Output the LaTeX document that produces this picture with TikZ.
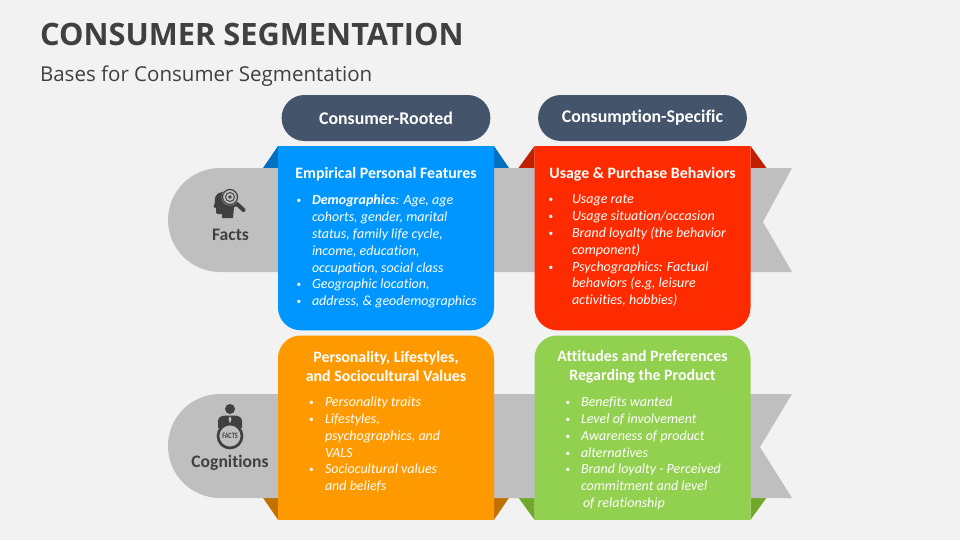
\documentclass[tikz,border=0pt]{standalone}
\usepackage{fontspec}
\setmainfont[Ligatures=NoCommon]{Carlito}
\newfontfamily\titlefont{Open Sans}
\usetikzlibrary{positioning}

\definecolor{pageGrey}{HTML}{F2F2F2}
\definecolor{bandGrey}{HTML}{BFBFBF}
\definecolor{inkGrey}{HTML}{404040}
\definecolor{pillSlate}{HTML}{44546A}
\definecolor{cardBlue}{HTML}{0096FF}
\definecolor{foldBlue}{HTML}{0070C0}
\definecolor{cardRed}{HTML}{FF2B00}
\definecolor{foldRed}{HTML}{C02000}
\definecolor{cardOrange}{HTML}{FF9900}
\definecolor{foldOrange}{HTML}{C27000}
\definecolor{cardGreen}{HTML}{92D050}
\definecolor{foldGreen}{HTML}{6FA82A}

\newcommand{\bul}[1][8pt]{\makebox[0pt][r]{\raisebox{0.8pt}{\fontsize{7}{7}\selectfont\upshape•}\hspace{#1}}}

\begin{document}
\begin{tikzpicture}[
    x=0.75pt, y=-0.75pt,
    cardWidth/.style={minimum width=162pt},
    cardHeight/.style={minimum height=138.2pt},
    bandWidth/.style={minimum width=468pt},
    bandHeight/.style={minimum height=78pt},
    pill/.style={fill=pillSlate, text=white, rounded corners=17pt, minimum width=156.5pt, minimum height=34.5pt, inner sep=0pt, font=\fontsize{13.4}{15}\selectfont\bfseries},
    cardTitle/.style={text=white, align=center, inner sep=0pt, font=\fontsize{11.9}{14.2}\selectfont\bfseries},
    cardText/.style={text=white, align=left, anchor=north west, inner sep=0pt, font=\fontsize{10.5}{12.6}\selectfont\itshape},
    rowLabel/.style={text=inkGrey, inner sep=0pt, font=\fontsize{13.2}{15}\selectfont\bfseries},
    every node/.style={outer sep=0pt}
    ]
    \fill[pageGrey] (0,0) rectangle (960,540);
    \useasboundingbox (0,0) rectangle (960,540);

    % heading
    \node[anchor=base west, inner sep=0pt, text=inkGrey, font=\titlefont\fontsize{23.1}{28}\selectfont\bfseries] (title) at (40,45.5) {CONSUMER SEGMENTATION};
    \node[anchor=base west, inner sep=0pt, text=inkGrey, font=\titlefont\fontsize{15.4}{18}\selectfont] (subtitle) at (40,81) {Bases for Consumer Segmentation};

    % frames
    \node[anchor=north west, bandWidth, bandHeight] (factsBand) at (168,168) {};
    \node[anchor=north west, bandWidth, bandHeight] (cognBand) at (168,394) {};
    \node[anchor=north west, cardWidth, cardHeight] (blue) at (278,146) {};
    \node[anchor=north west, cardWidth, cardHeight] (red) at (534.5,146) {};
    \node[anchor=north west, cardWidth, cardHeight] (orange) at (278,335.5) {};
    \node[anchor=north west, cardWidth, cardHeight] (green) at (534.5,335.5) {};

    % folds
    \fill[foldBlue] (blue.north west) -- ++(-15,22) -- ++(15,0) -- cycle;
    \fill[foldBlue] (blue.north east) -- ++(15,22) -- ++(-15,0) -- cycle;
    \fill[foldRed] (red.north west) -- ++(-16,22) -- ++(16,0) -- cycle;
    \fill[foldRed] (red.north east) -- ++(16,22) -- ++(-16,0) -- cycle;
    \fill[foldOrange] (orange.south west) -- ++(-15,-22) -- ++(15,0) -- cycle;
    \fill[foldOrange] (orange.south east) -- ++(15,-22) -- ++(-15,0) -- cycle;
    \fill[foldGreen] (green.south west) -- ++(-16,-22) -- ++(16,0) -- cycle;
    \fill[foldGreen] (green.south east) -- ++(16,-22) -- ++(-16,0) -- cycle;

    % bands
    \fill[bandGrey] (factsBand.north east) -- ++(-29,54) -- (factsBand.south east) [rounded corners=39pt] -- (factsBand.south west) -- (factsBand.north west) [sharp corners] -- cycle;
    \fill[bandGrey] (cognBand.north east) -- ++(-32,53) -- (cognBand.south east) [rounded corners=39pt] -- (cognBand.south west) -- (cognBand.north west) [sharp corners] -- cycle;

    % cards
    \fill[cardBlue] (blue.north west) -- (blue.north east) [rounded corners=17pt] -- (blue.south east) -- (blue.south west) [sharp corners] -- cycle;
    \fill[cardRed] (red.north west) -- (red.north east) [rounded corners=17pt] -- (red.south east) -- (red.south west) [sharp corners] -- cycle;
    \fill[cardOrange] (orange.south west) -- (orange.south east) [rounded corners=17pt] -- (orange.north east) -- (orange.north west) [sharp corners] -- cycle;
    \fill[cardGreen] (green.south west) -- (green.south east) [rounded corners=17pt] -- (green.north east) -- (green.north west) [sharp corners] -- cycle;

    \node[pill] (rooted) at (386,118) {Consumer-Rooted};
    \node[pill] (specific) at (642.5,118) {Consumption-Specific};

    \node[cardTitle] (blueTitle) at (386,174.5) {Empirical Personal Features};
    \node[cardText] (blueText) at (312,195) {\bul\textbf{Demographics}: Age, age\\cohorts, gender, marital\\status, family life cycle,\\income, education,\\occupation, social class\\\bul Geographic location,\\\bul address, \& geodemographics};

    \node[cardTitle] (redTitle) at (642.5,174.5) {Usage \& Purchase Behaviors};
    \node[cardText] (redText) at (572,195) {\bul[14pt]Usage rate\\\bul[14pt]Usage situation/occasion\\\bul[14pt]Brand loyalty (the behavior\\component)\\\bul[14pt]Psychographics: Factual\\behaviors (e.g, leisure\\activities, hobbies)};

    \node[cardTitle] (orangeTitle) at (386,366.5) {Personality, Lifestyles,\\and Sociocultural Values};
    \node[cardText] (orangeText) at (325,397) {\bul[8.5pt]Personality traits\\\bul[8.5pt]Lifestyles,\\psychographics, and\\VALS\\\bul[8.5pt]Sociocultural values\\and beliefs};

    \node[cardTitle] (greenTitle) at (642.5,366.5) {Attitudes and Preferences\\Regarding the Product};
    \node[cardText] (greenText) at (581,397) {\bul Benefits wanted\\\bul Level of involvement\\\bul Awareness of product\\\bul alternatives\\\bul Brand loyalty - Perceived\\commitment and level\\\hspace{1.5pt}of relationship};

    \node[rowLabel] (factsLabel) at (230.5,234.5) {Facts};
    \node[rowLabel] (cognLabel) at (230,462.5) {Cognitions};

    % head icon
    \fill[inkGrey] (222,192) .. controls (216,193) and (214,198) .. (215,202) -- (213.5,207) -- (216,208) -- (216,213) .. controls (217,215) and (220,214) .. (222,214) -- (222,218) -- (233,218) -- (234,207) -- (238,206) -- (230,190) -- cycle;
    \draw[inkGrey, line width=3pt, line cap=round] (236.5,203.5) -- (243.5,210);
    \fill[bandGrey] (230,197) circle[radius=8.5];
    \draw[inkGrey, line width=0.9pt] (230,197) circle[radius=7.5];
    \draw[inkGrey, line width=0.7pt] (230,197) circle[radius=4.5];
    \fill[inkGrey] (230,197) circle[radius=1.8];

    % person icon
    \fill[inkGrey] (230,409) circle[radius=5];
    \fill[inkGrey] (218,428) -- (218,421) .. controls (218,417) and (222,415.5) .. (226,415.5) -- (234,415.5) .. controls (238,415.5) and (242,417) .. (242,421) -- (242,428) -- cycle;
    \fill[bandGrey] (230,416) -- (228.5,419) -- (230,424) -- (231.5,419) -- cycle;
    \filldraw[fill=bandGrey, draw=inkGrey, line width=2pt] (230,436) circle[radius=12];
    \node[inner sep=0pt, xscale=0.75, text=inkGrey, font=\fontsize{6.2}{6.2}\selectfont\bfseries] (factsIcon) at (230,436) {FACTS};
\end{tikzpicture}
\end{document}
